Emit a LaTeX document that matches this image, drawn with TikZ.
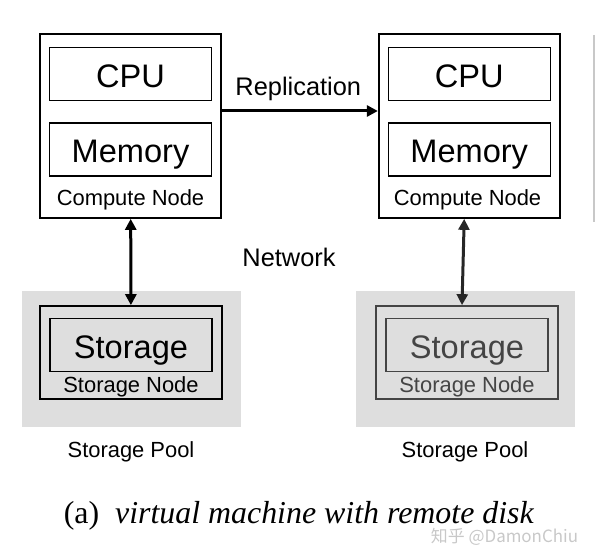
\documentclass[tikz,border=0pt]{standalone}
\usepackage{fontspec}
\setsansfont{Liberation Sans}
\newfontfamily\capfont{Liberation Serif}
\newfontfamily\cjkfont{Noto Sans CJK SC}
\usepackage{xcolor}
\usepackage{tikz}
\usetikzlibrary{positioning, arrows.meta, calc}

\definecolor{poolgray}{RGB}{222,222,222}
\definecolor{fadegray}{RGB}{68,68,68}
\definecolor{markgray}{RGB}{200,200,200}

\begin{document}
\begin{tikzpicture}[
    x=1bp, y=-1bp,
    hostbox/.style={rectangle, draw, line width=1.7bp, minimum width=181bp, minimum height=184bp},
    diskbox/.style={rectangle, draw, line width=1.7bp, minimum width=182bp, minimum height=93bp},
    partbox/.style={rectangle, draw, line width=1.3bp, minimum width=162bp, minimum height=53bp, inner sep=0pt,
        text height=25.5bp, text depth=0pt, font=\sffamily\fontsize{32.7}{34}\selectfont},
    pool/.style={rectangle, fill=poolgray, minimum width=219bp, minimum height=136bp},
    tag/.style={inner sep=0pt, anchor=base, font=\sffamily\fontsize{22}{24}\selectfont},
    note/.style={inner sep=0pt, font=\sffamily\fontsize{25.5}{28}\selectfont},
    arrow/.style={line width=3bp, >={Triangle[width=11bp, length=11bp]}}
]
\useasboundingbox (0,0) rectangle (596,560);

% compute nodes
\node[hostbox] (host1) at (130.5,126) {};
\node[partbox, below=14bp of host1.north] (cpu1) {CPU};
\node[partbox, below=21bp of cpu1] (mem1) {Memory};
\node[tag] (hname1) at (130.5,206) {Compute Node};

\node[hostbox, right=156bp of host1] (host2) {};
\node[partbox, below=14bp of host2.north] (cpu2) {CPU};
\node[partbox, below=21bp of cpu2] (mem2) {Memory};
\node[tag] (hname2) at (467.5,206) {Compute Node};

% storage pools
\node[pool] (pool1) at (131.5,359) {};
\node[diskbox] (snode1) at (131,352.5) {};
\node[partbox, below=13bp of snode1.north] (disk1) {Storage};
\node[tag] (sname1) at (131,392) {Storage Node};
\node[tag] (pname1) at (131,457) {Storage Pool};

\node[pool] (pool2) at (465,359) {};
\node[diskbox, draw=fadegray] (snode2) at (467,352.5) {};
\node[partbox, draw=fadegray, text=fadegray, below=13bp of snode2.north] (disk2) {Storage};
\node[tag, text=fadegray] (sname2) at (467,392) {Storage Node};
\node[tag] (pname2) at (465,457) {Storage Pool};

\node[note, anchor=base] (net) at (289,266) {Network};

% links
\draw[arrow, ->] ([yshift=15bp]host1.east) -- node[note, above=9bp, pos=0.49] (repl) {Replication} ([yshift=15bp]host2.west);
\draw[arrow, <->] (host1) -- (snode1);
\draw[arrow, <->, black!85] ([xshift=-5bp]host2.south) -- ([xshift=-5bp]snode2.north);

% edge of next panel
\draw[markgray, line width=1.2bp] (594,35) -- (594,222);

% caption
\node[anchor=base, inner sep=0pt, font=\capfont\fontsize{32}{35}\selectfont] (caption) at (299,523)
    {(a)\hspace{0.5em}\textit{virtual machine with remote disk}};
\node[inner sep=0pt, text=markgray, font=\cjkfont\fontsize{17}{19}\selectfont] (mark) at (504.5,537) {知乎 @DamonChiu};

\end{tikzpicture}
\end{document}
